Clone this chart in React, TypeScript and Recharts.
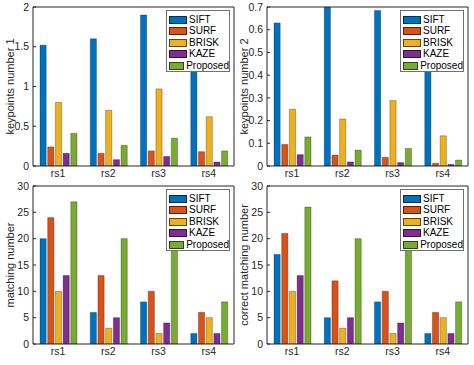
import { Bar, BarChart, Legend, XAxis, YAxis } from "recharts";

const categories = ["rs1", "rs2", "rs3", "rs4"];
const seriesNames = ["SIFT", "SURF", "BRISK", "KAZE", "Proposed"];
const seriesColors = ["#0072BD", "#D95319", "#EDB120", "#7E2F8E", "#77AC30"];

// keypoints number 1
const kp1Sift = [1.52, 1.6, 1.9, 1.3];
const kp1Surf = [0.24, 0.16, 0.19, 0.18];
const kp1Brisk = [0.8, 0.7, 0.97, 0.62];
const kp1Kaze = [0.16, 0.08, 0.12, 0.05];
const kp1Proposed = [0.41, 0.26, 0.35, 0.19];
const kp1Ticks = [0, 0.5, 1, 1.5, 2];

// keypoints number 2
const kp2Sift = [0.63, 0.7, 0.685, 0.45];
const kp2Surf = [0.095, 0.048, 0.038, 0.012];
const kp2Brisk = [0.25, 0.207, 0.288, 0.133];
const kp2Kaze = [0.05, 0.018, 0.015, 0.007];
const kp2Proposed = [0.128, 0.07, 0.077, 0.026];
const kp2Ticks = [0, 0.1, 0.2, 0.3, 0.4, 0.5, 0.6, 0.7];

// matching number
const mSift = [20, 6, 8, 2];
const mSurf = [24, 13, 10, 6];
const mBrisk = [10, 3, 2, 5];
const mKaze = [13, 5, 4, 2];
const mProposed = [27, 20, 18, 8];

// correct matching number
const cmSift = [17, 5, 8, 2];
const cmSurf = [21, 12, 10, 6];
const cmBrisk = [10, 3, 2, 5];
const cmKaze = [13, 5, 4, 2];
const cmProposed = [26, 20, 18, 8];
const matchTicks = [0, 5, 10, 15, 20, 25, 30];

const FONT = "'Liberation Sans', Arial, Helvetica, sans-serif";
const INK = "#262626";

function buildRows(series: number[][]) {
  return categories.map((name, i) => {
    const row: Record<string, string | number> = { name };
    seriesNames.forEach((s, k) => {
      row[s] = series[k][i];
    });
    return row;
  });
}

function LegendBox() {
  return (
    <div
      style={{
        width: 64,
        height: 62,
        background: "#fff",
        border: "1px solid #707070",
        boxSizing: "border-box",
        paddingTop: 3,
        fontFamily: FONT,
        fontSize: 10,
        color: "#000",
      }}
    >
      {seriesNames.map((s, i) => (
        <div key={s} style={{ display: "flex", alignItems: "center", height: 11.5 }}>
          <div
            style={{
              width: 18,
              height: 8,
              marginLeft: 2,
              background: seriesColors[i],
              border: "0.5px solid rgba(0,0,0,0.6)",
              boxSizing: "border-box",
            }}
          />
          <span style={{ marginLeft: 2, lineHeight: "10px" }}>{s}</span>
        </div>
      ))}
    </div>
  );
}

interface PanelProps {
  left: number;
  top: number;
  height: number;
  marginTop: number;
  marginBottom: number;
  series: number[][];
  ticks: number[];
  yLabel: string;
}

function Panel({ left, top, height, marginTop, marginBottom, series, ticks, yLabel }: PanelProps) {
  const data = buildRows(series);
  const yMax = ticks[ticks.length - 1];
  const tickStyle = { fontSize: 10.5, fill: INK, fontFamily: FONT };

  return (
    <div style={{ position: "absolute", left, top }}>
      <BarChart
        width={237}
        height={height}
        data={data}
        margin={{ top: marginTop, right: 2, left: 0, bottom: marginBottom }}
        barSize={6.2}
        barGap={1.5}
      >
        <XAxis
          dataKey="name"
          height={14}
          stroke={INK}
          tick={tickStyle}
          tickLine={false}
          tickSize={0}
          tickMargin={4}
          interval={0}
        />
        <XAxis
          xAxisId="top"
          dataKey="name"
          orientation="top"
          height={1}
          stroke={INK}
          tick={false}
          tickLine={false}
        />
        <YAxis
          width={33}
          domain={[0, yMax]}
          ticks={ticks}
          allowDataOverflow
          stroke={INK}
          tick={tickStyle}
          tickSize={-3}
          tickMargin={7}
          interval={0}
          label={(props: any) => {
            const vb = props.viewBox || {};
            const cx = 10;
            const cy = (vb.y ?? 0) + (vb.height ?? 0) / 2;
            return (
              <text
                x={cx}
                y={cy}
                transform={`rotate(-90 ${cx} ${cy})`}
                textAnchor="middle"
                dominantBaseline="central"
                fontSize={11}
                fontFamily={FONT}
                fill={INK}
              >
                {yLabel}
              </text>
            );
          }}
        />
        <YAxis
          yAxisId="right"
          orientation="right"
          width={1}
          domain={[0, yMax]}
          ticks={ticks}
          stroke={INK}
          tick={false}
          tickSize={-3}
        />
        {seriesNames.map((s, i) => (
          <Bar
            key={s}
            dataKey={s}
            fill={seriesColors[i]}
            stroke="#000"
            strokeOpacity={0.55}
            strokeWidth={0.5}
            isAnimationActive={false}
          />
        ))}
        <Legend
          layout="horizontal"
          verticalAlign="middle"
          align="center"
          wrapperStyle={{ top: marginTop + 4, left: 166, width: 64, height: 62 }}
          content={() => <LegendBox />}
        />
      </BarChart>
    </div>
  );
}

export default function App() {
  return (
    <div
      style={{
        position: "absolute",
        left: 0,
        top: 0,
        width: 474,
        height: 365,
        background: "#fff",
        overflow: "hidden",
      }}
    >
      <Panel
        left={0}
        top={0}
        height={182}
        marginTop={6}
        marginBottom={2}
        series={[kp1Sift, kp1Surf, kp1Brisk, kp1Kaze, kp1Proposed]}
        ticks={kp1Ticks}
        yLabel="keypoints number 1"
      />
      <Panel
        left={234}
        top={0}
        height={182}
        marginTop={6}
        marginBottom={2}
        series={[kp2Sift, kp2Surf, kp2Brisk, kp2Kaze, kp2Proposed]}
        ticks={kp2Ticks}
        yLabel="keypoints number 2"
      />
      <Panel
        left={0}
        top={179}
        height={186}
        marginTop={6}
        marginBottom={7}
        series={[mSift, mSurf, mBrisk, mKaze, mProposed]}
        ticks={matchTicks}
        yLabel="matching number"
      />
      <Panel
        left={234}
        top={179}
        height={186}
        marginTop={6}
        marginBottom={7}
        series={[cmSift, cmSurf, cmBrisk, cmKaze, cmProposed]}
        ticks={matchTicks}
        yLabel="correct matching number"
      />
    </div>
  );
}
